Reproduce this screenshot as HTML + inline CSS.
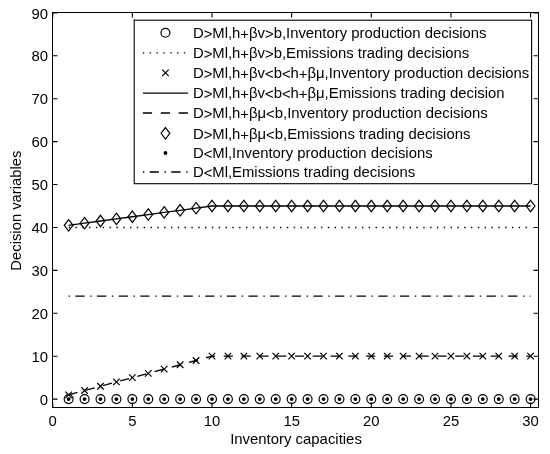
<!DOCTYPE html><html><head><meta charset="utf-8"><style>html,body{margin:0;padding:0;background:#fff;}svg{display:block}text{font-family:"Liberation Sans",sans-serif;font-size:14.85px;fill:#000}</style></head><body>
<svg width="550" height="454" viewBox="0 0 550 454">
<rect x="0" y="0" width="550" height="454" fill="#fff"/>
<line x1="68.63" y1="227.46" x2="530.6" y2="227.46" stroke="#000" stroke-width="1.35" stroke-dasharray="1.4 5.42"/><line x1="68.63" y1="296.12" x2="530.6" y2="296.12" stroke="#000" stroke-width="1.35" stroke-dasharray="1.4 5.3 9.3 5.64"/><polyline points="68.63,225.31 84.56,223.17 100.49,221.02 116.42,218.88 132.35,216.73 148.28,214.59 164.21,212.44 180.14,210.3 196.07,208.15 212,206 227.93,206 243.86,206 259.79,206 275.72,206 291.65,206 307.58,206 323.51,206 339.44,206 355.37,206 371.3,206 387.23,206 403.16,206 419.09,206 435.02,206 450.95,206 466.88,206 482.81,206 498.74,206 514.67,206 530.6,206" fill="none" stroke="#000" stroke-width="1.35"/><polyline points="68.63,394.81 84.56,390.52 100.49,386.23 116.42,381.94 132.35,377.65 148.28,373.35 164.21,369.06 180.14,364.77 196.07,360.48 212,356.19 227.93,356.19 243.86,356.19 259.79,356.19 275.72,356.19 291.65,356.19 307.58,356.19 323.51,356.19 339.44,356.19 355.37,356.19 371.3,356.19 387.23,356.19 403.16,356.19 419.09,356.19 435.02,356.19 450.95,356.19 466.88,356.19 482.81,356.19 498.74,356.19 514.67,356.19 530.6,356.19" fill="none" stroke="#000" stroke-width="1.35" stroke-dasharray="9.2 8.6"/><circle cx="68.63" cy="399.1" r="4.45" fill="none" stroke="#000" stroke-width="1.2"/><circle cx="84.56" cy="399.1" r="4.45" fill="none" stroke="#000" stroke-width="1.2"/><circle cx="100.49" cy="399.1" r="4.45" fill="none" stroke="#000" stroke-width="1.2"/><circle cx="116.42" cy="399.1" r="4.45" fill="none" stroke="#000" stroke-width="1.2"/><circle cx="132.35" cy="399.1" r="4.45" fill="none" stroke="#000" stroke-width="1.2"/><circle cx="148.28" cy="399.1" r="4.45" fill="none" stroke="#000" stroke-width="1.2"/><circle cx="164.21" cy="399.1" r="4.45" fill="none" stroke="#000" stroke-width="1.2"/><circle cx="180.14" cy="399.1" r="4.45" fill="none" stroke="#000" stroke-width="1.2"/><circle cx="196.07" cy="399.1" r="4.45" fill="none" stroke="#000" stroke-width="1.2"/><circle cx="212" cy="399.1" r="4.45" fill="none" stroke="#000" stroke-width="1.2"/><circle cx="227.93" cy="399.1" r="4.45" fill="none" stroke="#000" stroke-width="1.2"/><circle cx="243.86" cy="399.1" r="4.45" fill="none" stroke="#000" stroke-width="1.2"/><circle cx="259.79" cy="399.1" r="4.45" fill="none" stroke="#000" stroke-width="1.2"/><circle cx="275.72" cy="399.1" r="4.45" fill="none" stroke="#000" stroke-width="1.2"/><circle cx="291.65" cy="399.1" r="4.45" fill="none" stroke="#000" stroke-width="1.2"/><circle cx="307.58" cy="399.1" r="4.45" fill="none" stroke="#000" stroke-width="1.2"/><circle cx="323.51" cy="399.1" r="4.45" fill="none" stroke="#000" stroke-width="1.2"/><circle cx="339.44" cy="399.1" r="4.45" fill="none" stroke="#000" stroke-width="1.2"/><circle cx="355.37" cy="399.1" r="4.45" fill="none" stroke="#000" stroke-width="1.2"/><circle cx="371.3" cy="399.1" r="4.45" fill="none" stroke="#000" stroke-width="1.2"/><circle cx="387.23" cy="399.1" r="4.45" fill="none" stroke="#000" stroke-width="1.2"/><circle cx="403.16" cy="399.1" r="4.45" fill="none" stroke="#000" stroke-width="1.2"/><circle cx="419.09" cy="399.1" r="4.45" fill="none" stroke="#000" stroke-width="1.2"/><circle cx="435.02" cy="399.1" r="4.45" fill="none" stroke="#000" stroke-width="1.2"/><circle cx="450.95" cy="399.1" r="4.45" fill="none" stroke="#000" stroke-width="1.2"/><circle cx="466.88" cy="399.1" r="4.45" fill="none" stroke="#000" stroke-width="1.2"/><circle cx="482.81" cy="399.1" r="4.45" fill="none" stroke="#000" stroke-width="1.2"/><circle cx="498.74" cy="399.1" r="4.45" fill="none" stroke="#000" stroke-width="1.2"/><circle cx="514.67" cy="399.1" r="4.45" fill="none" stroke="#000" stroke-width="1.2"/><circle cx="530.6" cy="399.1" r="4.45" fill="none" stroke="#000" stroke-width="1.2"/><path d="M65.38 391.56L71.88 398.06M65.38 398.06L71.88 391.56" stroke="#000" stroke-width="1.2"/><path d="M81.31 387.27L87.81 393.77M81.31 393.77L87.81 387.27" stroke="#000" stroke-width="1.2"/><path d="M97.24 382.98L103.74 389.48M97.24 389.48L103.74 382.98" stroke="#000" stroke-width="1.2"/><path d="M113.17 378.69L119.67 385.19M113.17 385.19L119.67 378.69" stroke="#000" stroke-width="1.2"/><path d="M129.1 374.4L135.6 380.9M129.1 380.9L135.6 374.4" stroke="#000" stroke-width="1.2"/><path d="M145.03 370.1L151.53 376.6M145.03 376.6L151.53 370.1" stroke="#000" stroke-width="1.2"/><path d="M160.96 365.81L167.46 372.31M160.96 372.31L167.46 365.81" stroke="#000" stroke-width="1.2"/><path d="M176.89 361.52L183.39 368.02M176.89 368.02L183.39 361.52" stroke="#000" stroke-width="1.2"/><path d="M192.82 357.23L199.32 363.73M192.82 363.73L199.32 357.23" stroke="#000" stroke-width="1.2"/><path d="M208.75 352.94L215.25 359.44M208.75 359.44L215.25 352.94" stroke="#000" stroke-width="1.2"/><path d="M224.68 352.94L231.18 359.44M224.68 359.44L231.18 352.94" stroke="#000" stroke-width="1.2"/><path d="M240.61 352.94L247.11 359.44M240.61 359.44L247.11 352.94" stroke="#000" stroke-width="1.2"/><path d="M256.54 352.94L263.04 359.44M256.54 359.44L263.04 352.94" stroke="#000" stroke-width="1.2"/><path d="M272.47 352.94L278.97 359.44M272.47 359.44L278.97 352.94" stroke="#000" stroke-width="1.2"/><path d="M288.4 352.94L294.9 359.44M288.4 359.44L294.9 352.94" stroke="#000" stroke-width="1.2"/><path d="M304.33 352.94L310.83 359.44M304.33 359.44L310.83 352.94" stroke="#000" stroke-width="1.2"/><path d="M320.26 352.94L326.76 359.44M320.26 359.44L326.76 352.94" stroke="#000" stroke-width="1.2"/><path d="M336.19 352.94L342.69 359.44M336.19 359.44L342.69 352.94" stroke="#000" stroke-width="1.2"/><path d="M352.12 352.94L358.62 359.44M352.12 359.44L358.62 352.94" stroke="#000" stroke-width="1.2"/><path d="M368.05 352.94L374.55 359.44M368.05 359.44L374.55 352.94" stroke="#000" stroke-width="1.2"/><path d="M383.98 352.94L390.48 359.44M383.98 359.44L390.48 352.94" stroke="#000" stroke-width="1.2"/><path d="M399.91 352.94L406.41 359.44M399.91 359.44L406.41 352.94" stroke="#000" stroke-width="1.2"/><path d="M415.84 352.94L422.34 359.44M415.84 359.44L422.34 352.94" stroke="#000" stroke-width="1.2"/><path d="M431.77 352.94L438.27 359.44M431.77 359.44L438.27 352.94" stroke="#000" stroke-width="1.2"/><path d="M447.7 352.94L454.2 359.44M447.7 359.44L454.2 352.94" stroke="#000" stroke-width="1.2"/><path d="M463.63 352.94L470.13 359.44M463.63 359.44L470.13 352.94" stroke="#000" stroke-width="1.2"/><path d="M479.56 352.94L486.06 359.44M479.56 359.44L486.06 352.94" stroke="#000" stroke-width="1.2"/><path d="M495.49 352.94L501.99 359.44M495.49 359.44L501.99 352.94" stroke="#000" stroke-width="1.2"/><path d="M511.42 352.94L517.92 359.44M511.42 359.44L517.92 352.94" stroke="#000" stroke-width="1.2"/><path d="M527.35 352.94L533.85 359.44M527.35 359.44L533.85 352.94" stroke="#000" stroke-width="1.2"/><path d="M68.63 219.61L73.03 225.31L68.63 231.01L64.23 225.31Z" fill="none" stroke="#000" stroke-width="1.2"/><path d="M84.56 217.47L88.96 223.17L84.56 228.87L80.16 223.17Z" fill="none" stroke="#000" stroke-width="1.2"/><path d="M100.49 215.32L104.89 221.02L100.49 226.72L96.09 221.02Z" fill="none" stroke="#000" stroke-width="1.2"/><path d="M116.42 213.18L120.82 218.88L116.42 224.58L112.02 218.88Z" fill="none" stroke="#000" stroke-width="1.2"/><path d="M132.35 211.03L136.75 216.73L132.35 222.43L127.95 216.73Z" fill="none" stroke="#000" stroke-width="1.2"/><path d="M148.28 208.89L152.68 214.59L148.28 220.29L143.88 214.59Z" fill="none" stroke="#000" stroke-width="1.2"/><path d="M164.21 206.74L168.61 212.44L164.21 218.14L159.81 212.44Z" fill="none" stroke="#000" stroke-width="1.2"/><path d="M180.14 204.6L184.54 210.3L180.14 216L175.74 210.3Z" fill="none" stroke="#000" stroke-width="1.2"/><path d="M196.07 202.45L200.47 208.15L196.07 213.85L191.67 208.15Z" fill="none" stroke="#000" stroke-width="1.2"/><path d="M212 200.31L216.4 206L212 211.7L207.6 206Z" fill="none" stroke="#000" stroke-width="1.2"/><path d="M227.93 200.31L232.33 206L227.93 211.7L223.53 206Z" fill="none" stroke="#000" stroke-width="1.2"/><path d="M243.86 200.31L248.26 206L243.86 211.7L239.46 206Z" fill="none" stroke="#000" stroke-width="1.2"/><path d="M259.79 200.31L264.19 206L259.79 211.7L255.39 206Z" fill="none" stroke="#000" stroke-width="1.2"/><path d="M275.72 200.31L280.12 206L275.72 211.7L271.32 206Z" fill="none" stroke="#000" stroke-width="1.2"/><path d="M291.65 200.31L296.05 206L291.65 211.7L287.25 206Z" fill="none" stroke="#000" stroke-width="1.2"/><path d="M307.58 200.31L311.98 206L307.58 211.7L303.18 206Z" fill="none" stroke="#000" stroke-width="1.2"/><path d="M323.51 200.31L327.91 206L323.51 211.7L319.11 206Z" fill="none" stroke="#000" stroke-width="1.2"/><path d="M339.44 200.31L343.84 206L339.44 211.7L335.04 206Z" fill="none" stroke="#000" stroke-width="1.2"/><path d="M355.37 200.31L359.77 206L355.37 211.7L350.97 206Z" fill="none" stroke="#000" stroke-width="1.2"/><path d="M371.3 200.31L375.7 206L371.3 211.7L366.9 206Z" fill="none" stroke="#000" stroke-width="1.2"/><path d="M387.23 200.31L391.63 206L387.23 211.7L382.83 206Z" fill="none" stroke="#000" stroke-width="1.2"/><path d="M403.16 200.31L407.56 206L403.16 211.7L398.76 206Z" fill="none" stroke="#000" stroke-width="1.2"/><path d="M419.09 200.31L423.49 206L419.09 211.7L414.69 206Z" fill="none" stroke="#000" stroke-width="1.2"/><path d="M435.02 200.31L439.42 206L435.02 211.7L430.62 206Z" fill="none" stroke="#000" stroke-width="1.2"/><path d="M450.95 200.31L455.35 206L450.95 211.7L446.55 206Z" fill="none" stroke="#000" stroke-width="1.2"/><path d="M466.88 200.31L471.28 206L466.88 211.7L462.48 206Z" fill="none" stroke="#000" stroke-width="1.2"/><path d="M482.81 200.31L487.21 206L482.81 211.7L478.41 206Z" fill="none" stroke="#000" stroke-width="1.2"/><path d="M498.74 200.31L503.14 206L498.74 211.7L494.34 206Z" fill="none" stroke="#000" stroke-width="1.2"/><path d="M514.67 200.31L519.07 206L514.67 211.7L510.27 206Z" fill="none" stroke="#000" stroke-width="1.2"/><path d="M530.6 200.31L535 206L530.6 211.7L526.2 206Z" fill="none" stroke="#000" stroke-width="1.2"/><circle cx="68.63" cy="399.1" r="1.9" fill="#000"/><circle cx="84.56" cy="399.1" r="1.9" fill="#000"/><circle cx="100.49" cy="399.1" r="1.9" fill="#000"/><circle cx="116.42" cy="399.1" r="1.9" fill="#000"/><circle cx="132.35" cy="399.1" r="1.9" fill="#000"/><circle cx="148.28" cy="399.1" r="1.9" fill="#000"/><circle cx="164.21" cy="399.1" r="1.9" fill="#000"/><circle cx="180.14" cy="399.1" r="1.9" fill="#000"/><circle cx="196.07" cy="399.1" r="1.9" fill="#000"/><circle cx="212" cy="399.1" r="1.9" fill="#000"/><circle cx="227.93" cy="399.1" r="1.9" fill="#000"/><circle cx="243.86" cy="399.1" r="1.9" fill="#000"/><circle cx="259.79" cy="399.1" r="1.9" fill="#000"/><circle cx="275.72" cy="399.1" r="1.9" fill="#000"/><circle cx="291.65" cy="399.1" r="1.9" fill="#000"/><circle cx="307.58" cy="399.1" r="1.9" fill="#000"/><circle cx="323.51" cy="399.1" r="1.9" fill="#000"/><circle cx="339.44" cy="399.1" r="1.9" fill="#000"/><circle cx="355.37" cy="399.1" r="1.9" fill="#000"/><circle cx="371.3" cy="399.1" r="1.9" fill="#000"/><circle cx="387.23" cy="399.1" r="1.9" fill="#000"/><circle cx="403.16" cy="399.1" r="1.9" fill="#000"/><circle cx="419.09" cy="399.1" r="1.9" fill="#000"/><circle cx="435.02" cy="399.1" r="1.9" fill="#000"/><circle cx="450.95" cy="399.1" r="1.9" fill="#000"/><circle cx="466.88" cy="399.1" r="1.9" fill="#000"/><circle cx="482.81" cy="399.1" r="1.9" fill="#000"/><circle cx="498.74" cy="399.1" r="1.9" fill="#000"/><circle cx="514.67" cy="399.1" r="1.9" fill="#000"/><circle cx="530.6" cy="399.1" r="1.9" fill="#000"/>
<rect x="52.5" y="12.5" width="486" height="395" fill="none" stroke="#000" stroke-width="1"/><path d="M52.7 407.5V402.5M52.7 12.5V17.5M132.35 407.5V402.5M132.35 12.5V17.5M212 407.5V402.5M212 12.5V17.5M291.65 407.5V402.5M291.65 12.5V17.5M371.3 407.5V402.5M371.3 12.5V17.5M450.95 407.5V402.5M450.95 12.5V17.5M530.6 407.5V402.5M530.6 12.5V17.5M52.5 399.1H57.5M538.5 399.1H533.5M52.5 356.19H57.5M538.5 356.19H533.5M52.5 313.28H57.5M538.5 313.28H533.5M52.5 270.37H57.5M538.5 270.37H533.5M52.5 227.46H57.5M538.5 227.46H533.5M52.5 184.55H57.5M538.5 184.55H533.5M52.5 141.64H57.5M538.5 141.64H533.5M52.5 98.73H57.5M538.5 98.73H533.5M52.5 55.82H57.5M538.5 55.82H533.5M52.5 12.91H57.5M538.5 12.91H533.5" stroke="#000" stroke-width="1.1" fill="none"/>
<text x="52.7" y="425.5" text-anchor="middle">0</text><text x="132.35" y="425.5" text-anchor="middle">5</text><text x="212" y="425.5" text-anchor="middle">10</text><text x="291.65" y="425.5" text-anchor="middle">15</text><text x="371.3" y="425.5" text-anchor="middle">20</text><text x="450.95" y="425.5" text-anchor="middle">25</text><text x="530.6" y="425.5" text-anchor="middle">30</text><text x="48" y="404.7" text-anchor="end">0</text><text x="48" y="361.79" text-anchor="end">10</text><text x="48" y="318.88" text-anchor="end">20</text><text x="48" y="275.97" text-anchor="end">30</text><text x="48" y="233.06" text-anchor="end">40</text><text x="48" y="190.15" text-anchor="end">50</text><text x="48" y="147.24" text-anchor="end">60</text><text x="48" y="104.33" text-anchor="end">70</text><text x="48" y="61.42" text-anchor="end">80</text><text x="48" y="18.51" text-anchor="end">90</text><text x="296" y="444" text-anchor="middle" style="font-size:14.92px">Inventory capacities</text><text transform="translate(21.1 210.6) rotate(-90)" text-anchor="middle" style="font-size:14.8px">Decision variables</text>
<rect x="134.2" y="20.2" width="397.4" height="163.5" fill="#fff" stroke="#000" stroke-width="1.1"/><text x="192.9" y="38">D<tspan baseline-shift="-1">&gt;</tspan>Ml,h<tspan baseline-shift="-1">+</tspan>βv<tspan baseline-shift="-1">&gt;</tspan>b,Inventory production decisions</text><text x="192.9" y="58">D<tspan baseline-shift="-1">&gt;</tspan>Ml,h<tspan baseline-shift="-1">+</tspan>βv<tspan baseline-shift="-1">&gt;</tspan>b,Emissions trading decisions</text><text x="192.9" y="78.1">D<tspan baseline-shift="-1">&gt;</tspan>Ml,h<tspan baseline-shift="-1">+</tspan>βv<tspan baseline-shift="-1">&lt;</tspan>b<tspan baseline-shift="-1">&lt;</tspan>h<tspan baseline-shift="-1">+</tspan>βμ,Inventory production decisions</text><text x="192.9" y="98.3">D<tspan baseline-shift="-1">&gt;</tspan>Ml,h<tspan baseline-shift="-1">+</tspan>βv<tspan baseline-shift="-1">&lt;</tspan>b<tspan baseline-shift="-1">&lt;</tspan>h<tspan baseline-shift="-1">+</tspan>βμ,Emissions trading decision</text><text x="192.9" y="118.2">D<tspan baseline-shift="-1">&gt;</tspan>Ml,h<tspan baseline-shift="-1">+</tspan>βμ<tspan baseline-shift="-1">&lt;</tspan>b,Inventory production decisions</text><text x="192.9" y="138.5">D<tspan baseline-shift="-1">&gt;</tspan>Ml,h<tspan baseline-shift="-1">+</tspan>βμ<tspan baseline-shift="-1">&lt;</tspan>b,Emissions trading decisions</text><text x="192.9" y="158.2">D<tspan baseline-shift="-1">&lt;</tspan>Ml,Inventory production decisions</text><text x="192.9" y="177.2">D<tspan baseline-shift="-1">&lt;</tspan>Ml,Emissions trading decisions</text><circle cx="165.45" cy="32.8" r="4.45" fill="none" stroke="#000" stroke-width="1.2"/><line x1="142.9" y1="52.8" x2="187.9" y2="52.8" stroke="#000" stroke-width="1.35" stroke-dasharray="1.4 5.42"/><path d="M162.2 69.65L168.7 76.15M162.2 76.15L168.7 69.65" stroke="#000" stroke-width="1.2"/><line x1="142.9" y1="93.1" x2="187.9" y2="93.1" stroke="#000" stroke-width="1.35"/><line x1="142.9" y1="113.0" x2="187.9" y2="113.0" stroke="#000" stroke-width="1.35" stroke-dasharray="9.2 8.7"/><path d="M165.45 127.6L169.85 133.3L165.45 139L161.05 133.3Z" fill="none" stroke="#000" stroke-width="1.2"/><circle cx="165.45" cy="153" r="1.9" fill="#000"/><line x1="142.9" y1="172.0" x2="187.9" y2="172.0" stroke="#000" stroke-width="1.35" stroke-dasharray="1.4 5.3 9.3 5.64"/>
</svg></body></html>
